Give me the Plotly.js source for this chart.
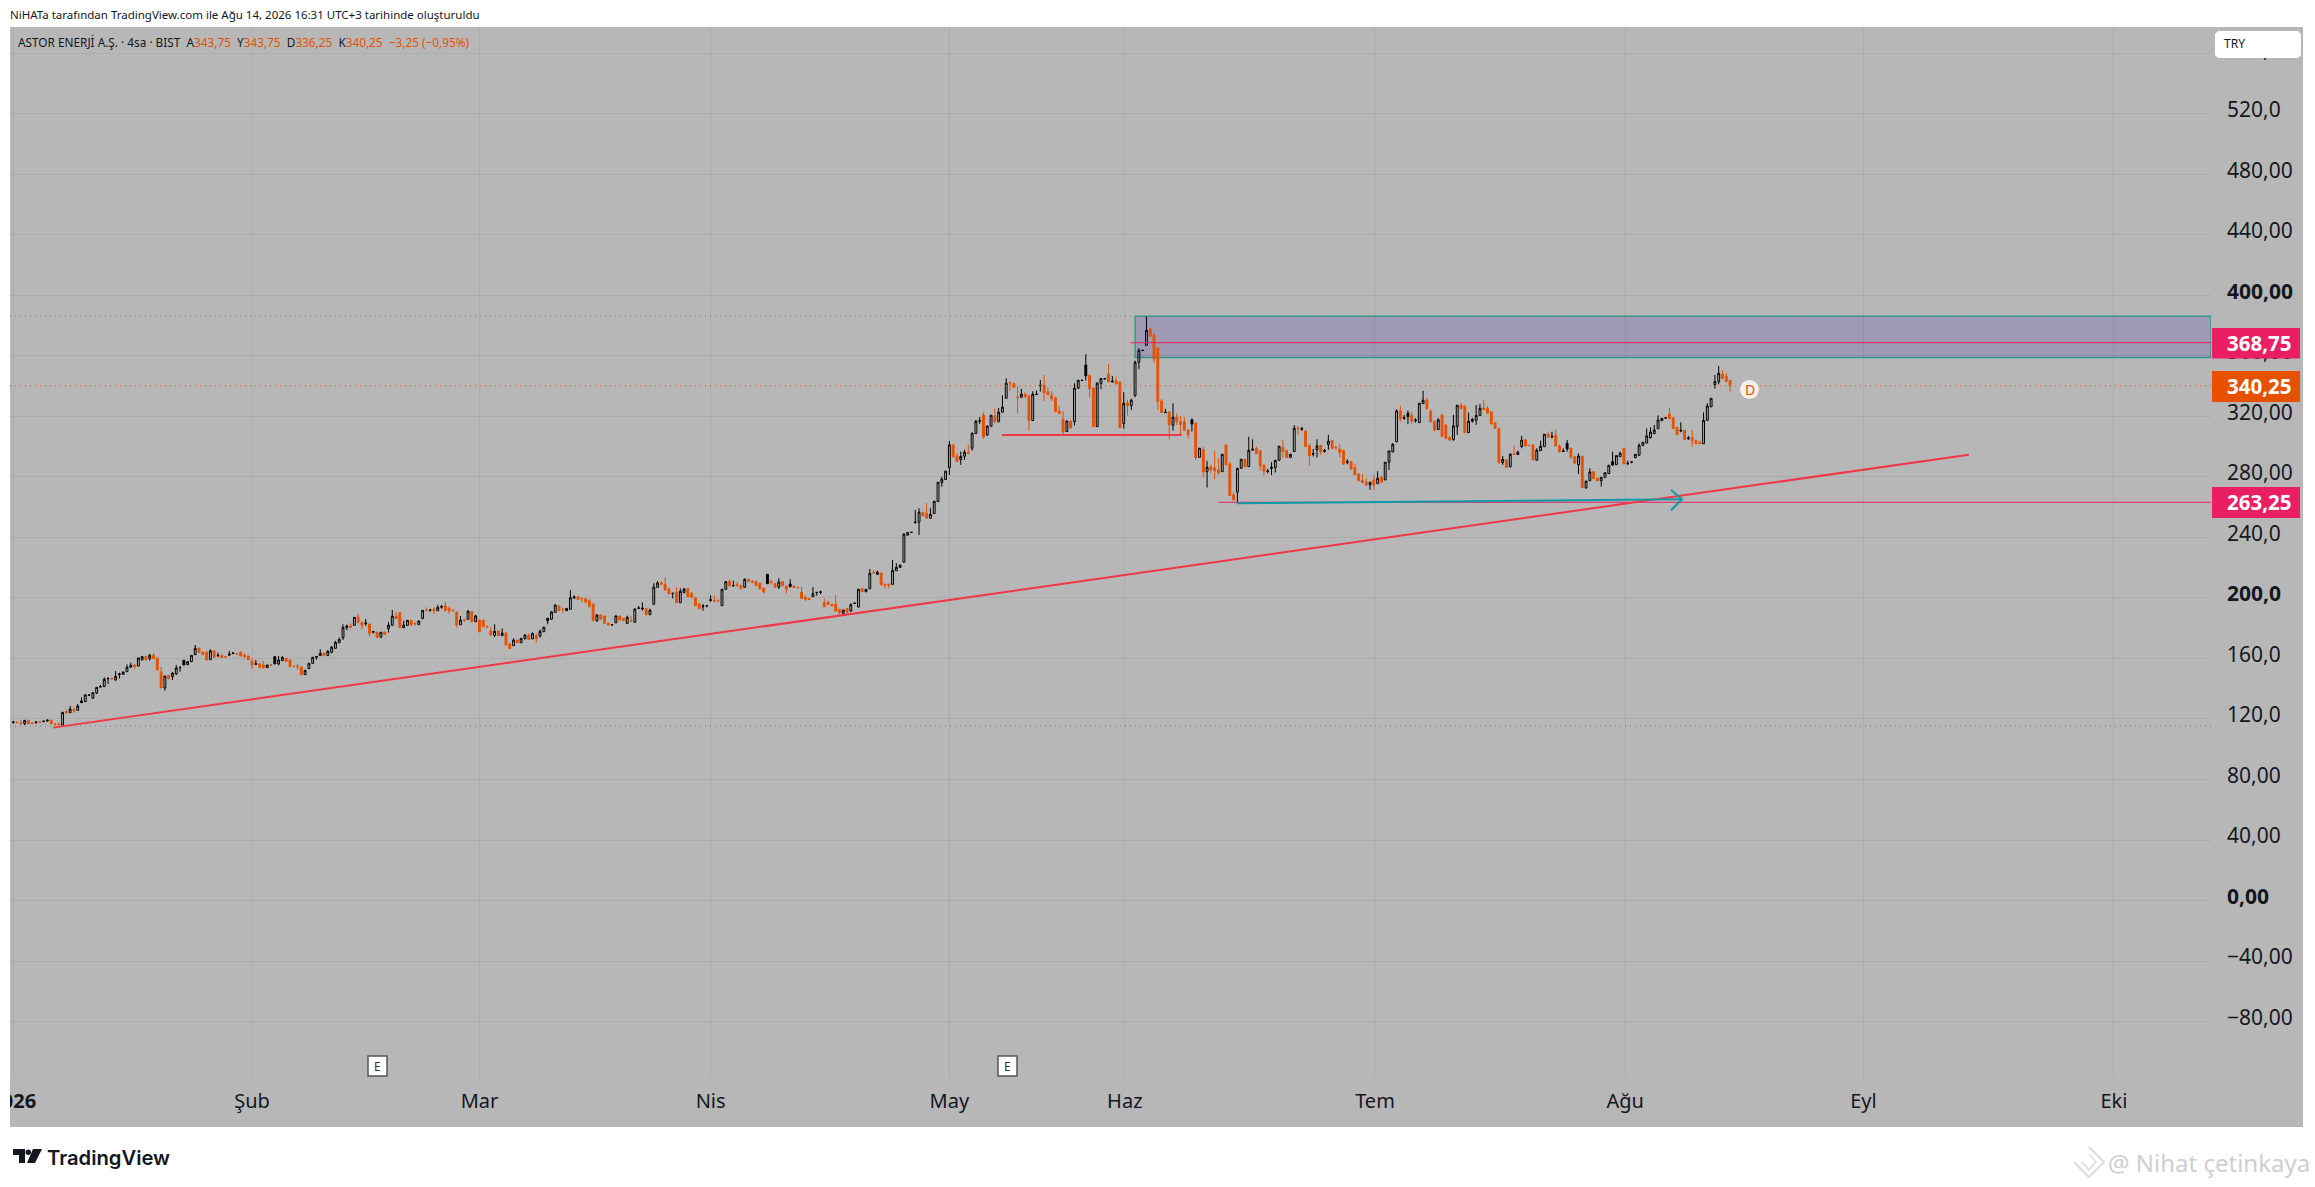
<!DOCTYPE html>
<html><head><meta charset="utf-8">
<script src="https://cdn.plot.ly/plotly-3.0.1.min.js"></script>
<style>html,body{margin:0;padding:0;background:#fff;overflow:hidden}#c{width:2315px;height:1187px}</style>
</head><body><div id="c"></div>
<script>
// each row: open, high, low, close (optional 5th = solid black body)
const barsJanMar=[[117.8,118.7,116.9,118.0],[117.9,118.2,117.2,117.7],[117.2,119.3,116.7,116.7],[116.9,119.1,116.0,119.1],[119.1,119.1,116.9,116.9],[117.4,117.4,116.9,117.0],[117.6,118.6,117.0,117.9],[118.1,118.1,117.7,117.8],[118.2,118.6,118.2,118.6],[118.7,119.8,118.2,119.1],[119.3,119.3,116.9,116.9],[116.9,116.9,116.0,116.6],[116.7,117.4,115.6,116.4],[116.0,124.4,116.0,124.4],[124.9,126.0,123.3,124.0],[124.2,128.6,124.2,126.6],[126.2,127.7,124.2,125.3],[125.7,129.9,125.7,128.6],[130.8,134.3,130.8,131.9,1],[131.5,136.3,131.5,135.9],[135.7,136.0,135.7,135.9],[133.7,137.4,133.7,137.4],[137.2,141.0,136.5,140.9],[141.1,142.5,141.1,141.4],[141.4,147.6,141.4,146.2],[146.5,147.6,143.1,146.8],[146.8,147.2,146.3,146.5],[145.8,151.7,145.3,148.2],[149.4,150.6,146.7,149.8],[149.5,151.1,149.5,151.1],[151.3,156.1,151.3,154.2],[154.2,157.2,154.2,155.5],[155.7,156.4,152.8,154.8],[155.0,160.8,155.0,160.3],[159.2,161.2,158.6,161.2],[161.4,161.4,159.0,159.0],[159.9,163.0,158.6,162.1],[162.1,163.6,159.9,159.9],[160.3,160.3,152.4,152.4],[151.1,154.6,140.5,140.5],[140.5,148.4,138.7,148.4],[148.9,148.9,146.5,146.5],[148.0,151.1,145.8,150.2],[149.8,155.7,149.1,153.7],[154.0,154.3,151.3,154.2],[155.7,158.8,155.7,158.8,1],[155.9,157.9,155.9,157.9],[157.9,162.1,157.9,162.1],[162.5,168.9,162.5,166.7],[166.9,166.9,163.9,163.9],[164.3,164.3,162.5,162.5],[163.9,165.2,159.0,159.0],[159.2,166.1,159.2,165.0],[165.0,165.0,160.8,160.8],[161.9,163.9,160.8,162.1],[162.1,162.8,160.6,160.6],[161.2,161.4,160.8,161.0],[162.2,165.0,161.7,162.8],[163.2,164.1,163.2,163.6],[163.2,163.2,162.8,163.0],[164.3,164.3,161.6,161.6],[162.3,163.4,160.1,161.2],[161.6,161.6,159.2,159.2],[158.3,160.1,153.3,155.7],[156.2,159.0,155.7,156.4],[156.4,157.3,153.3,154.2],[155.7,158.3,153.7,153.7],[153.9,155.7,153.9,155.7],[155.9,155.9,155.4,155.6],[156.4,161.2,156.4,161.2,1],[156.4,161.6,155.5,159.0],[158.6,161.6,158.6,160.6],[160.1,160.1,158.1,158.1],[159.0,159.0,154.6,154.6],[154.9,154.9,154.6,154.8],[154.9,156.4,152.4,154.6],[154.4,154.4,149.3,149.3],[149.3,152.2,149.3,152.2],[153.3,156.8,153.3,156.8],[156.8,160.8,156.8,160.8],[160.8,161.6,159.2,161.2],[161.9,166.1,161.9,163.4],[163.6,163.6,161.9,161.9],[161.9,165.6,161.9,164.7],[164.1,168.3,163.4,167.4],[166.7,171.6,166.7,170.7],[170.5,173.8,170.0,172.7],[173.8,182.6,172.2,180.4],[180.4,182.4,178.8,181.5],[181.5,183.2,180.4,180.4],[181.9,187.2,181.9,187.2],[187.4,189.4,183.2,183.9],[183.9,183.9,179.3,181.9],[183.0,186.1,181.5,183.4],[182.8,182.8,174.4,176.6],[177.4,178.2,176.6,177.7],[177.5,177.5,173.8,173.8],[174.0,177.3,174.0,177.3],[177.5,177.5,175.8,175.8],[179.7,184.1,177.1,181.9],[181.9,192.1,181.9,187.9],[188.1,191.0,186.3,186.3],[190.3,190.3,180.4,180.4],[180.4,185.0,180.4,182.1],[181.9,185.2,181.9,185.2],[185.2,185.2,182.1,182.1],[183.2,183.9,181.7,182.8],[182.4,184.8,182.4,184.8],[186.5,191.8,185.9,191.8],[192.1,193.8,191.0,191.9],[191.9,192.2,191.0,192.1],[192.7,193.8,189.4,191.6],[191.6,195.4,191.6,193.8],[193.9,195.4,192.9,194.3],[194.7,197.3,191.6,191.6],[193.2,194.3,189.4,191.6]];
const barsMarMay=[[191.9,192.5,191.1,191.6],[190.7,190.7,180.4,182.1],[182.3,188.1,182.3,185.4],[185.6,186.3,184.3,185.3],[185.9,192.0,185.9,191.2],[190.9,190.9,184.3,184.3],[184.3,188.9,184.3,188.1],[185.4,185.4,177.3,177.7],[185.4,185.4,181.0,181.0],[181.3,181.3,179.9,181.0],[178.2,181.0,175.5,175.5],[175.3,182.6,174.0,177.9],[178.2,178.2,175.1,175.1],[175.1,179.9,175.1,176.8],[177.0,177.0,168.9,168.9],[169.6,170.4,166.5,166.5],[168.5,173.3,168.5,172.2],[172.2,172.2,170.4,170.4],[170.4,173.3,170.4,173.3],[173.1,176.2,172.6,175.5],[175.3,176.6,172.6,172.6],[172.9,177.3,172.9,176.4],[175.1,176.6,170.4,173.1],[174.8,179.2,174.0,177.9],[177.7,181.0,177.7,180.6],[185.0,187.0,182.6,186.5,1],[185.9,191.4,185.9,190.7],[190.5,195.8,190.5,195.3],[194.7,195.3,191.6,191.6],[192.6,193.6,189.8,192.4],[191.6,193.1,191.6,193.1],[192.5,205.2,192.5,200.2],[200.2,201.7,199.3,200.6],[200.8,201.3,199.1,199.1],[199.8,200.2,196.9,199.5],[199.3,200.2,196.4,197.3],[198.2,199.1,194.2,194.2],[196.0,196.0,185.0,185.0],[185.0,189.4,184.1,188.7],[188.7,189.2,185.9,185.9],[188.1,188.1,183.2,183.2],[183.4,183.4,181.7,182.1],[182.2,182.5,181.5,182.4],[183.6,188.5,183.6,188.1],[188.1,188.1,185.4,185.4],[186.5,186.5,185.0,185.0],[183.2,188.3,182.8,187.2],[184.9,188.1,184.1,184.6],[183.9,193.1,183.9,192.7],[193.2,194.7,192.7,193.4],[192.7,197.1,191.6,193.2],[193.1,193.1,188.9,188.9],[188.9,192.9,188.9,192.0],[195.8,209.7,195.8,207.2],[207.0,211.2,207.0,209.9],[210.1,210.8,209.0,209.0],[209.0,213.6,205.2,205.2],[205.9,207.0,202.8,202.8],[203.0,203.2,199.7,203.1],[203.9,207.0,196.9,196.9],[196.9,206.3,196.9,204.4],[203.7,206.6,203.0,205.9],[206.3,206.3,200.8,200.8],[203.0,203.9,200.4,200.4],[200.0,200.8,194.9,194.9],[196.2,196.2,192.9,192.9],[194.2,196.0,191.6,194.6],[194.8,195.0,193.8,194.9],[198.3,201.7,197.5,198.8],[198.2,201.7,197.5,197.9],[198.3,199.1,197.5,198.1],[194.9,205.7,194.9,205.7],[205.7,210.8,205.7,210.8],[211.0,212.0,207.9,207.9],[207.9,211.4,207.8,208.2],[208.7,210.8,207.4,208.3],[208.3,208.3,206.1,206.1],[207.0,213.0,207.0,212.3],[212.3,213.0,211.0,211.0],[211.2,211.9,210.3,210.3],[210.8,211.4,208.1,208.1],[209.6,210.3,205.9,205.9],[206.3,207.0,203.0,203.9],[209.4,215.6,209.4,215.6,1],[210.7,211.9,209.0,210.4],[209.6,209.6,207.0,207.0],[207.2,213.0,205.9,210.5],[210.8,210.8,208.1,208.1],[207.9,207.9,203.0,205.9],[207.4,212.3,207.4,209.2,1],[207.9,207.9,207.0,207.0],[207.0,207.0,206.7,206.8],[203.9,207.4,199.7,199.7],[200.4,201.5,198.0,199.1],[199.7,199.7,198.9,198.9],[200.8,207.2,200.8,202.8],[203.6,203.8,201.5,203.7],[203.8,204.8,202.6,204.0],[196.9,199.7,194.2,194.2],[197.3,198.2,195.6,195.6],[195.8,195.8,194.7,194.7],[196.0,201.9,191.4,191.4],[192.5,192.5,189.4,190.3],[189.8,192.0,189.8,192.0],[193.1,193.1,189.4,190.7],[191.4,196.4,190.9,195.6],[196.3,197.1,196.3,196.5],[194.0,206.1,194.0,205.7],[206.3,206.3,204.1,204.1],[204.1,205.7,204.1,205.7],[206.1,219.1,206.1,216.3],[216.9,218.5,215.8,216.6],[215.6,218.0,215.6,217.1],[216.5,216.5,208.5,208.5],[209.0,209.6,206.1,208.4],[209.0,209.6,206.6,208.4],[209.0,225.1,209.0,218.2],[218.0,222.9,218.0,220.2],[220.2,221.8,220.2,221.8]];
const barsMayJun=[[223.6,242.9,223.6,242.1],[241.5,243.2,241.5,243.2],[243.3,243.6,243.3,243.4],[249.9,258.2,249.0,250.1],[250.1,259.3,241.7,256.7],[256.7,256.7,254.2,254.2],[256.0,262.6,252.7,252.7],[252.7,259.3,252.7,255.3],[255.8,264.1,255.8,263.9],[263.7,276.5,263.7,276.5],[276.3,280.2,273.6,278.5],[278.3,283.8,278.3,283.8],[286.2,303.8,281.3,301.2],[301.2,301.2,293.2,293.2],[293.9,295.7,290.2,290.2],[291.5,296.8,288.0,293.5],[293.7,297.9,291.3,296.3],[296.3,301.2,295.4,295.4],[299.0,309.3,297.4,308.9],[308.7,317.7,308.7,316.8],[316.9,319.5,315.0,317.2],[321.0,322.8,305.1,306.5],[307.6,314.2,307.6,313.5],[313.5,320.8,313.5,320.8],[320.3,325.0,315.5,316.6],[316.8,325.6,315.9,322.8],[322.8,334.0,322.8,326.1],[332.0,345.2,332.0,341.9],[342.5,343.0,336.9,342.2],[341.9,341.9,339.1,339.1],[332.9,340.2,322.1,332.5],[332.7,338.2,332.0,334.7],[334.7,335.8,332.0,333.1],[333.6,333.6,310.6,317.3],[317.3,336.6,317.3,334.7],[334.5,337.1,334.5,334.7],[340.2,344.1,336.4,340.5],[340.6,347.4,330.2,335.8],[336.2,339.3,334.4,334.4],[334.0,336.6,330.2,331.6],[332.2,333.1,323.2,323.2],[323.6,326.9,321.9,321.9],[318.1,323.6,308.4,309.8],[310.0,317.0,310.0,317.0],[316.6,317.7,312.4,312.4],[316.6,341.9,314.0,338.6],[338.6,343.9,338.6,343.9],[343.7,344.0,343.7,343.9],[346.8,361.1,343.7,354.0,1],[347.2,347.2,332.5,338.4],[338.8,338.8,313.3,313.3],[313.3,342.6,313.3,341.9],[341.9,345.0,338.0,345.0],[344.7,345.2,344.7,345.0],[348.1,354.7,342.8,342.8],[342.9,346.8,342.4,343.3],[343.5,346.3,341.5,341.5],[342.8,342.8,312.6,312.6],[315.3,336.0,312.0,328.7],[328.7,330.9,320.6,327.2],[327.2,331.8,324.3,330.7],[333.8,356.9,332.7,355.8],[355.8,365.1,351.2,363.7],[363.5,364.0,363.5,363.7],[367.0,386.0,367.0,376.9],[377.6,378.9,372.3,373.2],[373.9,375.0,355.6,358.0],[365.3,365.3,324.3,329.8],[330.2,331.6,322.5,322.5],[322.5,325.0,322.5,322.7],[323.0,323.0,304.9,314.4],[314.2,328.7,310.6,319.5],[319.5,322.1,314.4,316.6],[316.4,320.3,307.6,314.6],[316.4,319.5,310.9,310.9],[311.1,311.1,305.6,308.0],[315.0,318.8,310.0,317.7,1],[315.7,315.7,291.3,292.8],[293.0,299.0,293.0,299.0],[297.9,300.1,279.6,283.3],[283.5,290.6,273.0,286.4],[286.6,288.0,282.4,284.6],[286.0,297.2,278.5,284.0],[284.6,292.4,281.3,282.7],[283.5,295.0,283.5,295.0],[301.2,301.2,288.0,288.0],[288.6,289.7,267.7,267.7],[268.1,269.7,264.8,264.8],[269.9,285.7,262.6,285.7],[285.7,291.7,285.7,291.7],[291.7,291.7,286.6,286.6],[286.8,306.5,286.8,297.6],[297.8,304.9,297.4,298.3],[299.0,300.1,295.4,295.4],[297.4,297.4,284.0,287.3],[287.9,287.9,280.9,283.8],[283.6,285.3,282.4,283.9],[285.6,289.7,281.3,286.4],[286.2,291.0,282.9,291.0],[291.0,300.3,291.0,300.3],[299.6,304.5,292.8,296.8],[297.4,297.9,292.8,292.8],[293.0,295.0,292.4,295.0],[296.8,314.2,296.8,312.2],[312.4,313.7,308.2,312.0]];
const barsJunJul=[[311.6,313.1,310.4,311.9],[310.4,310.4,300.1,300.1],[300.7,301.8,287.5,293.9],[295.0,298.5,293.5,295.4],[298.1,304.9,292.8,300.5],[300.7,301.2,294.6,296.5],[296.9,298.5,296.1,297.4],[301.4,307.8,297.9,303.6],[304.0,304.5,298.7,298.7],[299.7,300.7,297.9,299.3],[298.5,301.8,293.0,296.1],[297.4,297.9,287.9,288.6],[289.7,291.7,288.4,290.0],[290.2,290.2,284.6,285.3],[286.2,288.6,281.3,281.3],[282.0,282.0,277.4,277.4],[277.8,282.0,276.1,276.1],[276.7,279.1,274.5,274.5],[274.7,276.5,271.4,276.5],[278.0,281.3,271.4,274.7],[275.6,283.8,275.6,279.1],[279.6,280.7,276.5,276.5],[278.0,289.7,278.0,289.7],[289.7,297.2,284.6,297.2],[296.5,302.3,296.5,301.6],[303.4,324.7,302.7,323.6],[323.6,327.0,316.6,318.4],[318.8,321.0,317.7,319.2],[319.9,323.9,314.8,322.1,1],[320.6,322.8,315.0,317.0],[317.2,318.8,315.9,317.6],[315.9,328.7,315.9,328.7],[328.5,336.9,328.5,330.7],[330.9,332.5,325.0,325.0],[323.2,324.7,316.4,316.4],[316.8,316.8,310.0,311.1],[311.3,318.8,311.3,317.7],[321.0,321.4,306.7,306.7],[314.4,314.4,305.4,305.4],[306.0,307.3,303.8,304.5],[304.7,321.0,303.8,313.7],[313.3,327.4,307.8,327.4],[327.6,328.7,325.0,325.0],[326.9,326.9,309.3,309.3],[309.3,322.5,309.3,316.8],[316.8,319.0,315.9,318.1],[317.5,327.6,314.4,320.6],[320.6,328.3,320.6,325.4],[325.6,330.9,324.5,324.5],[325.4,326.9,322.1,322.1],[323.0,323.0,314.4,315.0],[315.7,316.4,312.0,312.0],[312.2,312.2,288.6,289.5],[289.5,293.9,288.0,291.7],[291.3,291.3,286.2,286.2],[286.9,295.7,286.2,295.0],[295.1,300.5,294.6,294.9],[294.8,297.4,294.8,296.3],[300.1,307.1,299.0,304.3],[304.5,305.1,300.5,300.5],[300.9,300.9,300.5,300.7],[301.2,301.2,291.3,291.3],[291.0,298.9,291.0,297.6]];
const barsJulAug=[[297.4,304.0,297.4,300.2],[300.0,308.2,300.0,308.2],[308.4,309.3,306.2,306.2],[306.4,309.9,305.5,306.8],[307.7,311.5,300.5,300.5],[300.5,301.6,296.0,296.7],[296.9,298.9,296.9,297.1],[298.5,304.4,296.7,302.2,1],[299.1,299.1,292.7,292.7],[293.4,293.4,289.0,289.0],[288.1,295.6,282.0,293.8],[293.8,293.8,272.9,272.9],[272.7,277.3,272.3,277.3],[277.5,285.7,277.5,283.3],[283.5,283.5,278.9,278.9],[279.3,279.3,277.5,277.5],[277.5,279.7,273.6,279.7],[279.7,282.8,279.7,282.8],[282.2,287.7,282.2,287.7],[287.9,296.7,287.2,290.1,1],[288.1,294.1,288.1,294.1],[293.4,296.7,293.4,295.6],[298.9,298.9,288.6,288.6],[288.8,290.8,287.7,289.0],[289.8,290.0,289.0,289.9],[292.7,294.9,292.7,294.9],[294.3,302.2,293.8,300.9],[300.7,302.9,300.7,302.9],[302.4,312.1,302.4,307.1],[306.0,312.8,305.3,309.7],[308.6,314.3,308.6,311.0],[311.9,320.7,311.9,317.6],[317.2,318.7,317.2,318.7],[318.9,319.3,318.9,319.1],[321.6,325.6,318.5,318.5],[319.0,319.0,311.9,311.9],[312.8,312.8,307.9,307.9],[310.3,316.1,309.5,310.8],[311.0,311.0,304.6,304.6],[305.2,307.1,304.6,305.7],[306.2,311.0,300.0,304.0],[304.0,304.9,302.0,302.0],[302.7,304.0,302.0,302.0],[302.0,322.7,302.0,317.4],[317.4,328.7,317.4,326.9],[326.4,332.0,326.0,332.0],[341.0,347.4,338.4,343.0],[343.0,353.3,341.2,348.5],[348.0,350.7,345.0,345.0],[346.7,348.5,343.0,343.0],[343.75,343.75,336.25,340.25]];

const monthTickBars=[0,63,123,184,247,293.3,359.3,425.3,488.2,554.3];
const monthTickText=['<b>2026</b>','Şub','Mar','Nis','May','Haz','Tem','Ağu','Eyl','Eki'];
const priceTicks=[560,520,480,440,400,360,320,280,240,200,160,120,80,40,0,-40,-80];
const priceTickText=['560,0','520,0','480,00','440,00','<b>400,00</b>','360,00','320,00','280,00','240,0','<b>200,0</b>','160,0','120,0','80,00','40,00','<b>0,00</b>','−40,00','−80,00'];

const lastClose=340.25, levelHigh=368.75, levelLow=263.25, dotHigh=386.2, dotLow=115.4;
const zoneTop=386.2, zoneBottom=359, zoneStartBar=296;
const trendBars=[10.5,516], trendPrices=[114.3,294.7];
const supportBars=[260.9,308.3], supportPrices=[307.7,307.7];
const arrowBars=[323,440.3], arrowPrices=[262.6,265.2];
const headBars=[437.4,440.3,437.4], headPrices=[271.5,265.2,257.8];
const levelHighStart=294.8, levelLowStart=318;

const rows=[...barsJanMar,...barsMarMay,...barsMayJun,...barsJunJul,...barsJulAug];
const idx=rows.map((_,i)=>i);
const xMin=-0.87, xMax=579.9, yMin=-117.3, yMax=577.4;
const hollow=idx.filter(i=>!rows[i][4]), solid=idx.filter(i=>rows[i][4]);
const pick=(list,k)=>list.map(i=>rows[i][k]);
function candles(list,upFill){return {type:'candlestick',x:list,open:pick(list,0),high:pick(list,1),low:pick(list,2),close:pick(list,3),
 whiskerwidth:0,hoverinfo:'skip',showlegend:false,
 increasing:{line:{color:'#000000',width:1},fillcolor:upFill},
 decreasing:{line:{color:'#e65100',width:1},fillcolor:'#e65100'}};}
function ln(x,y,color,width,dash){return {type:'scatter',mode:'lines',x,y,hoverinfo:'skip',showlegend:false,line:{color,width,dash:dash||'solid',simplify:false}};}

const data=[
 ln([xMin,xMax],[dotHigh,dotHigh],'#7a7a7a',1,'1px,4px'),
 ln([xMin,xMax],[dotLow,dotLow],'#7a7a7a',1,'1px,4px'),
 ln([xMin,xMax],[lastClose,lastClose],'#e65100',1,'1px,4px'),
 candles(hollow,'rgba(0,0,0,0)'),
 candles(solid,'#000000'),
 ln([levelHighStart,xMax],[levelHigh,levelHigh],'#e91e63',1),
 ln([levelLowStart,xMax],[levelLow,levelLow],'#e91e63',1),
 ln(trendBars,trendPrices,'#f23645',2),
 ln(supportBars,supportPrices,'#f23645',2),
 ln(arrowBars,arrowPrices,'#0e9aa7',2),
 ln(headBars,headPrices,'#0e9aa7',2)
];

const L=10,T=27,W=2201,H=1051;
const px=x=>(x-L)/W, py=y=>1-(y-T)/H;
const font='"Noto Sans",sans-serif', dark='#131722', or='#e65100';
function box(x0,y0,x1,y1,fill,layer,lc,lw){return {type:'rect',xref:'paper',yref:'paper',x0:px(x0),x1:px(x1),y0:py(y1),y1:py(y0),fillcolor:fill,layer:layer||'above',line:{width:lw||0,color:lc||fill}};}
function poly(pts,fill,lc,lw){return {type:'path',xref:'paper',yref:'paper',layer:'above',path:'M'+pts.map(p=>px(p[0])+','+py(p[1])).join('L')+(fill?'Z':''),fillcolor:fill||'rgba(0,0,0,0)',line:{width:lw||0,color:lc||fill}};}
function txt(text,x,y,size,color,anchor,extra){return Object.assign({text,x:px(x),y:py(y),xref:'paper',yref:'paper',xanchor:anchor||'left',yanchor:'middle',showarrow:false,font:{family:font,size,color},borderpad:0,borderwidth:0},extra||{});}

const shapes=[
 box(10,27,2303,1127,'#b7b7b7','below'),
 {type:'rect',xref:'x',yref:'y',x0:zoneStartBar,x1:xMax,y0:zoneBottom,y1:zoneTop,fillcolor:'rgba(63,33,163,0.2)',layer:'below',line:{color:'#2a9d8f',width:1.5}},
 box(0,0,10,1187,'#ffffff','above'),
 poly([[2218,31],[2298,31],[2301,34],[2301,55],[2298,58],[2218,58],[2215,55],[2215,34]],'#ffffff'),
 box(2212,328,2300,358.6,'#e91e63'),
 box(2212,371,2300,402,or),
 box(2212,487,2300,518,'#e91e63'),
 box(368,1056,387,1076,'#ffffff','above','#555555',1.5),
 box(998,1056,1017,1076,'#ffffff','above','#555555',1.5),
 {type:'circle',xref:'paper',yref:'paper',layer:'above',x0:px(1740),x1:px(1759),y0:py(399),y1:py(380),fillcolor:'#f6eee9',line:{width:0}},
 // TradingView mark
 poly([[13,1149],[25,1149],[25,1163],[19,1163],[19,1155],[13,1155]],'#131722'),
 {type:'circle',xref:'paper',yref:'paper',layer:'above',x0:px(25.5),x1:px(31),y0:py(1155),y1:py(1149.5),fillcolor:'#131722',line:{width:0}},
 poly([[33,1149],[42,1149],[35,1163],[27,1163]],'#131722'),
 // watermark mark
 poly([[2089,1147],[2104,1162],[2089,1177],[2074,1162]],null,'#dcdcdc',2),
 poly([[2089,1154],[2096,1162],[2089,1170],[2082,1162]],null,'#e4e4e4',2)
];
const annotations=[
 txt('NiHATa tarafından TradingView.com ile Ağu 14, 2026 16:31 UTC+3 tarihinde oluşturuldu',10,14.5,11.5,dark),
 txt(`ASTOR ENERJİ A.Ş. · 4sa · BIST  A<span style="color:${or}">343,75</span>  Y<span style="color:${or}">343,75</span>  D<span style="color:${or}">336,25</span>  K<span style="color:${or}">340,25  −3,25 (−0,95%)</span>`,18,41.5,11.8,dark),
 txt('TRY',2224,44,12,dark),
 txt('<b>368,75</b>',2227,342.5,20.5,'#ffffff'),
 txt('<b>340,25</b>',2227,386,20.5,'#ffffff'),
 txt('<b>263,25</b>',2227,502,20.5,'#ffffff'),
 txt('E',377.5,1066,12,'#333333','center'),
 txt('E',1007.5,1066,12,'#333333','center'),
 txt('D',1749.5,389.5,14,or,'center'),
 txt('TradingView',47,1157,20,dark,'left',{font:{family:'Inter,sans-serif',size:20.2,color:dark,weight:600}}),
 txt('@ Nihat çetinkaya',2108,1162,24,'#cfcfcf')
];

Plotly.newPlot('c',data,{
 width:2315,height:1187,margin:{l:L,r:2315-L-W,t:T,b:1187-T-H,pad:0},
 paper_bgcolor:'#ffffff',plot_bgcolor:'rgba(0,0,0,0)',showlegend:false,dragmode:false,hovermode:false,
 font:{family:font,color:dark},
 xaxis:{type:'linear',range:[xMin,xMax],rangeslider:{visible:false},tickmode:'array',tickvals:monthTickBars,ticktext:monthTickText,ticklabeloverflow:'allow',
  showgrid:true,gridcolor:'rgba(0,0,0,0.06)',gridwidth:1,zeroline:false,showline:false,ticks:'',ticklabelstandoff:9,tickfont:{size:20,color:dark,family:font},tickangle:0,fixedrange:true},
 yaxis:{type:'linear',side:'right',range:[yMin,yMax],tickmode:'array',tickvals:priceTicks,ticktext:priceTickText,ticklabeloverflow:'allow',ticklabelshift:-4,
  showgrid:true,gridcolor:'rgba(0,0,0,0.06)',gridwidth:1,zeroline:false,showline:false,ticks:'',ticklabelstandoff:15,tickfont:{size:21,color:dark,family:font},fixedrange:true},
 shapes,annotations
},{displayModeBar:false,staticPlot:true});
</script></body></html>
